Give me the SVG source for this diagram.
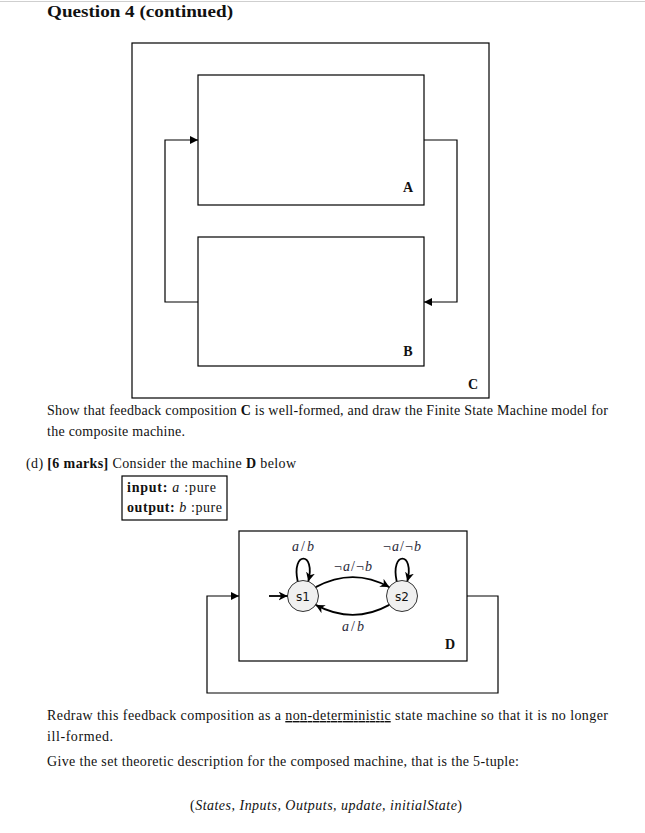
<svg xmlns="http://www.w3.org/2000/svg" width="645" height="833" viewBox="0 0 645 833">
<style>
text{font-family:"Liberation Serif","DejaVu Serif",serif;fill:#111}
.body{font-size:14px}
.b{font-weight:bold}
.i{font-style:italic}
.box{fill:none;stroke:#000;stroke-width:1.2}
.wire{fill:none;stroke:#000;stroke-width:1.2}
.tr{fill:none;stroke:#000;stroke-width:1.8}
.st{fill:#f0f0f0;stroke:#333;stroke-width:1}
.sl{font-family:"DejaVu Sans","Liberation Sans",sans-serif;font-size:12px}
.lbl{font-size:14px}
.ml{font-size:14px;fill:#2a2a3a}
</style>
<defs>
<marker id="ah" viewBox="0 0 10 10" refX="10" refY="5" markerWidth="10" markerHeight="8" markerUnits="userSpaceOnUse" orient="auto">
<path d="M0,0 L10,5 L0,10 z" fill="#000"/>
</marker>
<marker id="ah2" viewBox="0 0 10 10" refX="10" refY="5" markerWidth="5" markerHeight="5" orient="auto">
<path d="M0,0 L10,5 L0,10 L3,5 z" fill="#000"/>
</marker>
</defs>
<rect width="645" height="833" fill="#fff"/>
<line x1="0" y1="1.5" x2="645" y2="1.5" stroke="#cfcfcf" stroke-width="1"/>
<text x="47" y="17" font-size="17" class="b" textLength="186" lengthAdjust="spacingAndGlyphs">Question 4 (continued)</text>

<g id="C"><rect class="box" x="132" y="43" width="357" height="355"/><text x="473" y="389" class="b lbl" text-anchor="middle">C</text></g>
<g id="A"><rect class="box" x="198" y="75" width="226" height="130"/><text x="408" y="192" class="b lbl" text-anchor="middle">A</text></g>
<g id="B"><rect class="box" x="198" y="237" width="226" height="129"/><text x="408" y="356" class="b lbl" text-anchor="middle">B</text></g>

<text class="body" x="47" y="415" textLength="561" lengthAdjust="spacing">Show that feedback composition <tspan class="b">C</tspan> is well-formed, and draw the Finite State Machine model for</text>
<text class="body" x="47" y="436" textLength="138" lengthAdjust="spacing">the composite machine.</text>
<text class="body" x="26" y="468" textLength="270" lengthAdjust="spacing">(d)  <tspan class="b">[6 marks]</tspan> Consider the machine <tspan class="b">D</tspan> below</text>

<g id="io">
<rect class="box" x="122" y="476" width="105" height="44"/>
<text class="body" x="127" y="492" textLength="89" lengthAdjust="spacing"><tspan class="b">input:</tspan> <tspan class="i">a</tspan> :pure</text>
<text class="body" x="127" y="512" textLength="95" lengthAdjust="spacing"><tspan class="b">output:</tspan> <tspan class="i">b</tspan> :pure</text>
</g>

<g id="D"><rect class="box" x="239" y="531" width="228" height="130"/><text x="450" y="649" class="b lbl" text-anchor="middle">D</text></g>
<g id="s1"><circle class="st" cx="303" cy="596" r="15.5"/><text class="sl" x="303" y="600.5" text-anchor="middle">s1</text></g>
<g id="s2"><circle class="st" cx="402" cy="596" r="15.5"/><text class="sl" x="402" y="600.5" text-anchor="middle">s2</text></g>

<g id="connectors">
<path class="wire" d="M198,302 H165 V140 H198" marker-end="url(#ah)"/>
<path class="wire" d="M424,140 H457 V302 H424" marker-end="url(#ah)"/>
<path class="wire" d="M467,596 H498 V693 H207 V596 H239" marker-end="url(#ah)"/>
<path class="tr" d="M269,596 H287.5" marker-end="url(#ah2)"/>
<path class="tr" d="M297.7,581.4 C291,551 316,551 308.3,581.4" marker-end="url(#ah2)"/>
<path class="tr" d="M396.7,581.4 C390,551 415,551 407.3,581.4" marker-end="url(#ah2)"/>
<path class="tr" d="M315.7,587.1 Q353,567 389.3,587.1" marker-end="url(#ah2)"/>
<path class="tr" d="M389.3,604.9 Q353,625 315.7,604.9" marker-end="url(#ah2)"/>
<text class="ml" x="303" y="551" text-anchor="middle" textLength="22" lengthAdjust="spacing"><tspan class="i">a</tspan>/<tspan class="i">b</tspan></text>
<text class="ml" x="402" y="551" text-anchor="middle" textLength="38" lengthAdjust="spacing">¬<tspan class="i">a</tspan>/¬<tspan class="i">b</tspan></text>
<text class="ml" x="353" y="571" text-anchor="middle" textLength="38" lengthAdjust="spacing">¬<tspan class="i">a</tspan>/¬<tspan class="i">b</tspan></text>
<text class="ml" x="353" y="631" text-anchor="middle" textLength="22" lengthAdjust="spacing"><tspan class="i">a</tspan>/<tspan class="i">b</tspan></text>
</g>

<text class="body" x="47" y="720" textLength="561" lengthAdjust="spacing">Redraw this feedback composition as a <tspan text-decoration="underline">non-deterministic</tspan> state machine so that it is no longer</text>
<text class="body" x="47" y="741" textLength="66" lengthAdjust="spacing">ill-formed.</text>
<text class="body" x="47" y="766" textLength="472" lengthAdjust="spacing">Give the set theoretic description for the composed machine, that is the 5-tuple:</text>
<text class="body" x="326" y="810" text-anchor="middle" textLength="272" lengthAdjust="spacing">(<tspan class="i">States, Inputs, Outputs, update, initialState</tspan>)</text>
</svg>
